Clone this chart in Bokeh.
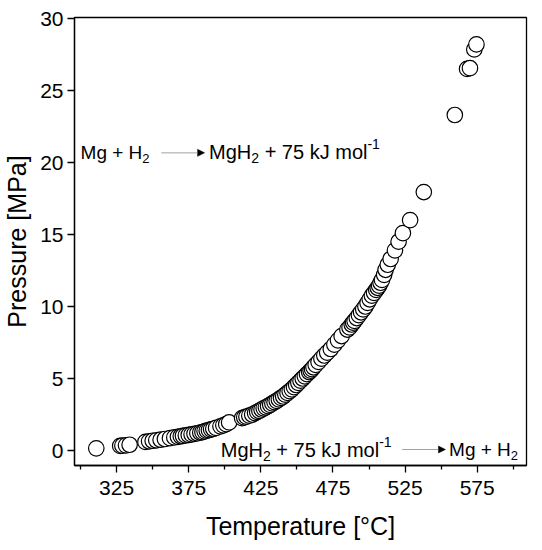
from bokeh.plotting import figure
from bokeh.models import Range1d, FixedTicker, Label, Arrow, NormalHead
from bokeh.embed import file_html
from bokeh.resources import INLINE

# ---- data ----
temperature = [310.9, 327.5, 329.0, 331.5, 334.0, 345.0, 347.5, 350.0, 352.5, 355.5,
               358.5, 362.0, 365.0, 367.5, 369.5, 371.0, 373.0, 375.0, 377.0, 379.0,
               381.0, 383.0, 384.5, 386.0, 387.5, 389.0, 390.5, 392.0, 394.0, 397.0,
               399.0, 401.0, 403.0, 412.0, 413.5, 415.0, 417.0, 419.0, 421.0, 422.5,
               424.0, 425.5, 427.0, 428.5, 430.0, 431.5, 433.0, 434.5, 436.0, 437.5,
               439.0, 440.5, 442.0, 443.5, 445.0, 446.5, 448.0, 449.5, 451.0, 452.5,
               454.0, 455.5, 457.0, 458.5, 459.5, 460.5, 461.5, 463.0, 465.0, 467.0,
               469.0, 471.0, 473.5, 476.0, 478.5, 481.0, 485.0, 486.5, 488.0, 489.0,
               490.0, 491.5, 493.0, 494.5, 496.0, 497.5, 499.0, 500.5, 502.0, 503.5,
               505.0, 506.0, 507.0, 508.0, 509.0, 510.5, 511.5, 513.0, 515.0, 518.0,
               520.5, 523.5, 528.5, 538.0, 559.5, 568.0, 570.0, 573.0, 574.5]
pressure = [0.15, 0.32, 0.34, 0.36, 0.40, 0.60, 0.64, 0.68, 0.71, 0.75,
            0.80, 0.86, 0.91, 0.95, 0.99, 1.02, 1.05, 1.08, 1.12, 1.16,
            1.20, 1.25, 1.28, 1.33, 1.38, 1.42, 1.47, 1.51, 1.57, 1.68,
            1.75, 1.83, 1.95, 2.25, 2.30, 2.35, 2.42, 2.50, 2.60, 2.68,
            2.75, 2.85, 2.93, 3.00, 3.08, 3.17, 3.27, 3.36, 3.45, 3.55,
            3.65, 3.75, 3.88, 4.00, 4.12, 4.25, 4.40, 4.55, 4.70, 4.85,
            5.00, 5.15, 5.30, 5.45, 5.55, 5.65, 5.78, 5.95, 6.15, 6.38,
            6.60, 6.80, 7.05, 7.35, 7.65, 7.95, 8.40, 8.55, 8.75, 8.88,
            9.00, 9.20, 9.40, 9.60, 9.80, 10.00, 10.25, 10.50, 10.75, 10.95,
            11.15, 11.30, 11.45, 11.65, 11.85, 12.20, 12.55, 12.90, 13.30, 13.90,
            14.50, 15.10, 16.00, 17.95, 23.30, 26.50, 26.55, 27.85, 28.20]

x_major = [325, 375, 425, 475, 525, 575]
x_minor = [300, 350, 400, 450, 500, 550, 600]
y_major = [0, 5, 10, 15, 20, 25, 30]

FONT = "Liberation Sans"

p = figure(width=534, height=548, output_backend="svg", toolbar_location=None,
           x_range=Range1d(295.8, 609.2), y_range=Range1d(-1.04, 30.07),
           min_border_left=68, min_border_right=8, min_border_top=17, min_border_bottom=83,
           x_axis_label="Temperature [°C]", y_axis_label="Pressure [MPa]")

p.xgrid.visible = False
p.ygrid.visible = False
p.outline_line_color = "black"
p.outline_line_width = 1.3
p.background_fill_color = "white"
p.border_fill_color = "white"

p.xaxis.ticker = FixedTicker(ticks=x_major, minor_ticks=x_minor)
p.yaxis.ticker = FixedTicker(ticks=y_major, minor_ticks=[])
for ax in (p.xaxis, p.yaxis):
    ax.axis_line_color = "black"
    ax.axis_line_width = 1.3
    ax.major_tick_line_color = "black"
    ax.major_tick_line_width = 1.3
    ax.minor_tick_line_color = "black"
    ax.minor_tick_line_width = 1.3
    ax.major_tick_in = 0
    ax.major_tick_out = 7
    ax.minor_tick_in = 0
    ax.minor_tick_out = 4
    ax.major_label_text_font = FONT
    ax.major_label_text_font_size = "21px"
    ax.major_label_text_color = "black"
    ax.axis_label_text_font = FONT
    ax.axis_label_text_font_size = "25px"
    ax.axis_label_text_font_style = "normal"
    ax.axis_label_text_color = "black"
p.yaxis.major_label_standoff = 4
p.yaxis.axis_label_standoff = 6
p.xaxis.major_label_standoff = 8
p.xaxis.axis_label_standoff = 14

p.scatter(temperature, pressure, size=15.5, marker="circle",
          fill_color="white", line_color="black", line_width=1.2)

# ---- reaction annotations ----
W = {"M": .833, "g": .556, " ": .278, "+": .584, "H": .722, "7": .556, "5": .556,
     "k": .5, "J": .5, "m": .833, "o": .556, "l": .222, "-": .333, "1": .556, "2": .556}


def tw(s, fs):
    return sum(W[c] for c in s) * fs


def piece(x, y, text, fs, off):
    p.add_layout(Label(x=x, y=y, text=text, x_offset=off, text_font=FONT,
                       text_font_size=f"{fs}px", text_color="black",
                       text_baseline="alphabetic", text_align="left"))


def mg_h2(x, y, fs, sfs):
    piece(x, y, "Mg + H", fs, 0)
    piece(x, y - 0.4, "2", sfs, tw("Mg + H", fs))


def mgh2_energy(x, y, fs, sfs):
    piece(x, y, "MgH", fs, 0)
    o = tw("MgH", fs)
    piece(x, y - 0.4, "2", sfs, o)
    o += tw("2", sfs) + tw(" ", fs)
    piece(x, y, "+ 75 kJ mol", fs, o)
    o += tw("+ 75 kJ mol", fs)
    piece(x, y + 0.55, "-1", sfs, o)


def arrow(x0, x1, y):
    p.add_layout(Arrow(x_start=x0, x_end=x1, y_start=y, y_end=y,
                       line_color="#8a8a8a", line_width=0.8,
                       end=NormalHead(size=7, fill_color="black", line_color="black",
                                      line_width=0.5)))


mg_h2(300.0, 20.71, 19, 13)
arrow(356.0, 386.0, 20.67)
mgh2_energy(389.1, 20.71, 20, 14)

mgh2_energy(397.2, 0.05, 20, 14)
arrow(523.0, 553.0, 0.07)
mg_h2(555.5, 0.05, 19, 13)

open("out.html", "w").write(file_html(p, INLINE))
